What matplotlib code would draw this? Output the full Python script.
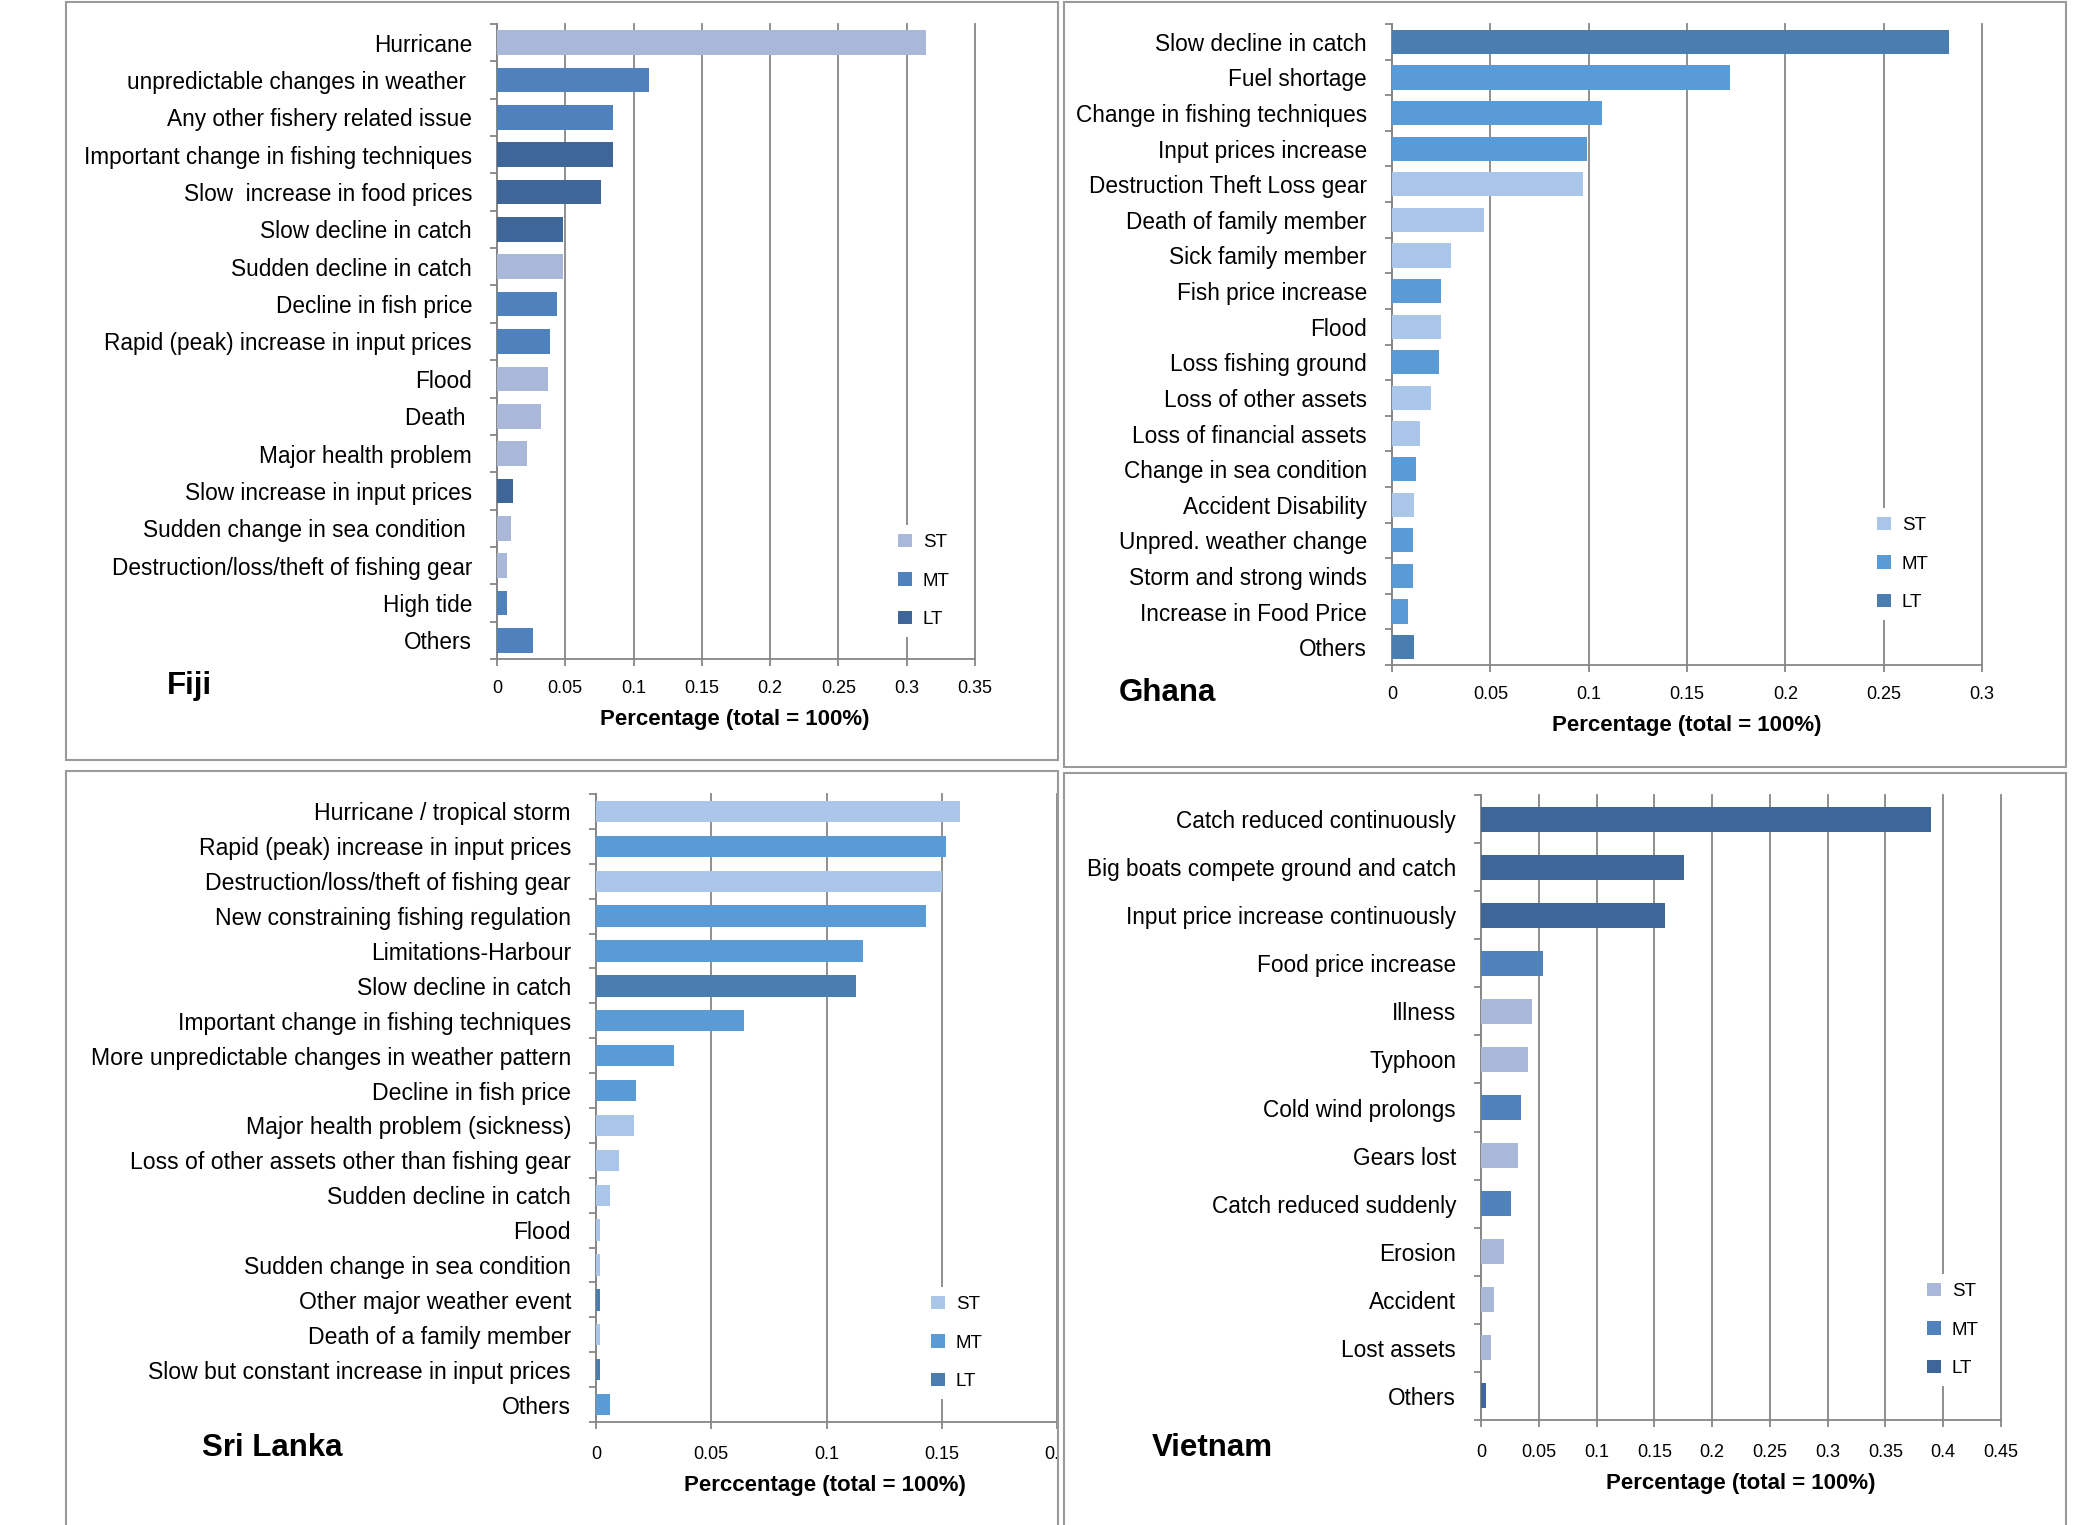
import matplotlib
matplotlib.use("Agg")
import matplotlib.pyplot as plt
from matplotlib.patches import Patch, Rectangle
from matplotlib.ticker import FixedLocator, FuncFormatter
from matplotlib.transforms import Bbox, TransformedBbox
import numpy as np

plt.rcParams['font.family'] = ['Liberation Sans', 'DejaVu Sans']

# ---------------- data ----------------
fiji_labels = ["Hurricane", "unpredictable changes in weather ", "Any other fishery related issue",
               "Important change in fishing techniques", "Slow  increase in food prices",
               "Slow decline in catch", "Sudden decline in catch", "Decline in fish price",
               "Rapid (peak) increase in input prices", "Flood", "Death ", "Major health problem",
               "Slow increase in input prices", "Sudden change in sea condition ",
               "Destruction/loss/theft of fishing gear", "High tide", "Others"]
fiji_values = [0.314, 0.111, 0.085, 0.085, 0.076, 0.048, 0.048, 0.044, 0.039, 0.037,
               0.032, 0.022, 0.012, 0.010, 0.0075, 0.0075, 0.026]
fiji_terms = ["ST", "MT", "MT", "LT", "LT", "LT", "ST", "MT", "MT", "ST",
              "ST", "ST", "LT", "ST", "ST", "MT", "MT"]

ghana_labels = ["Slow decline in catch", "Fuel shortage", "Change in fishing techniques",
                "Input prices increase", "Destruction Theft Loss gear", "Death of family member",
                "Sick family member", "Fish price increase", "Flood", "Loss fishing ground",
                "Loss of other assets", "Loss of financial assets", "Change in sea condition",
                "Accident Disability", "Unpred. weather change", "Storm and strong winds",
                "Increase in Food Price", "Others"]
ghana_values = [0.283, 0.172, 0.107, 0.099, 0.097, 0.047, 0.030, 0.025, 0.025, 0.024,
                0.020, 0.014, 0.012, 0.011, 0.0105, 0.0105, 0.008, 0.011]
ghana_terms = ["LT", "MT", "MT", "MT", "ST", "ST", "ST", "MT", "ST", "MT",
               "ST", "ST", "MT", "ST", "MT", "MT", "MT", "LT"]

srilanka_labels = ["Hurricane / tropical storm", "Rapid (peak) increase in input prices",
                   "Destruction/loss/theft of fishing gear", "New constraining fishing regulation",
                   "Limitations-Harbour", "Slow decline in catch",
                   "Important change in fishing techniques",
                   "More unpredictable changes in weather pattern", "Decline in fish price",
                   "Major health problem (sickness)", "Loss of other assets other than fishing gear",
                   "Sudden decline in catch", "Flood", "Sudden change in sea condition",
                   "Other major weather event", "Death of a family member",
                   "Slow but constant increase in input prices", "Others"]
srilanka_values = [0.158, 0.152, 0.150, 0.143, 0.116, 0.113, 0.064, 0.034, 0.0175, 0.0165,
                   0.010, 0.006, 0.0017, 0.0017, 0.0017, 0.0017, 0.0017, 0.006]
srilanka_terms = ["ST", "MT", "ST", "MT", "MT", "LT", "MT", "MT", "MT", "ST",
                  "ST", "ST", "ST", "ST", "LT", "ST", "LT", "MT"]

vietnam_labels = ["Catch reduced continuously", "Big boats compete ground and catch",
                  "Input price increase continuously", "Food price increase", "Illness",
                  "Typhoon", "Cold wind prolongs", "Gears lost", "Catch reduced suddenly",
                  "Erosion", "Accident", "Lost assets", "Others"]
vietnam_values = [0.389, 0.176, 0.159, 0.054, 0.044, 0.041, 0.035, 0.032, 0.026,
                  0.020, 0.011, 0.0085, 0.004]
vietnam_terms = ["LT", "LT", "LT", "MT", "ST", "ST", "MT", "ST", "MT",
                 "ST", "ST", "ST", "LT"]

term_order = ["ST", "MT", "LT"]
pal_a = {"ST": "#A9B8D9", "MT": "#4F81BD", "LT": "#3E6699"}   # Fiji / Vietnam
pal_b = {"ST": "#AAC6E8", "MT": "#5B9BD5", "LT": "#4A7EB0"}   # Ghana / Sri Lanka

W, H = 2073, 1525
fig = plt.figure(figsize=(W / 100, H / 100), dpi=100)
GRID = "#878787"


def fx(x):
    return x / W


def fy(y):
    return 1 - y / H


def panel(box, labels, values, terms, pal, xmax, bar_h, title, title_xy,
          xlabel, xlabel_xy, legend_xy, tick_pad=10, ylab_size=16.3, clip_right=None):
    x0, y0, x1, y1 = box
    ax = fig.add_axes([fx(x0), fy(y1), (x1 - x0) / W, (y1 - y0) / H])
    n = len(labels)
    pos = np.arange(n)
    ax.barh(pos, values, height=bar_h, color=[pal[t] for t in terms], zorder=3)
    ax.set_ylim(n - 0.5, -0.5)
    ax.set_xlim(0, xmax)

    xt = np.round(np.arange(0, xmax + 1e-9, 0.05), 2)
    ax.xaxis.set_major_locator(FixedLocator(xt))
    ax.xaxis.set_major_formatter(FuncFormatter(lambda v, p: "%g" % v))
    ax.tick_params(axis="x", direction="out", length=5, width=1.3, color=GRID,
                   labelsize=13, pad=tick_pad)
    ax.grid(axis="x", color=GRID, lw=1.3, clip_on=False)
    ax.set_axisbelow(True)

    ax.set_yticks(pos)
    ax.set_yticklabels(labels)
    ax.set_yticks(np.arange(n + 1) - 0.5, minor=True)
    ax.tick_params(axis="y", which="major", length=0, pad=18, labelsize=ylab_size)
    ax.tick_params(axis="y", which="minor", direction="out", length=5, width=1.3, color=GRID)

    for s in ["top", "right"]:
        ax.spines[s].set_visible(False)
    for s in ["left", "bottom"]:
        ax.spines[s].set_color(GRID)
        ax.spines[s].set_linewidth(1.3)

    fig.text(fx(title_xy[0]), fy(title_xy[1]), title, fontsize=22.5, fontweight="bold",
             ha="center", va="center")
    fig.text(fx(xlabel_xy[0]), fy(xlabel_xy[1]), xlabel, fontsize=16, fontweight="bold",
             ha="center", va="center")

    handles = [Patch(facecolor=pal[t], edgecolor="none") for t in term_order]
    fs = 13.5
    bp = 0.5
    ax.legend(handles, term_order, loc="center left",
              bbox_to_anchor=(fx(legend_xy[0] - 8 - bp * fs * 100 / 72), fy(legend_xy[1])),
              bbox_transform=fig.transFigure, frameon=True, facecolor="white",
              edgecolor="none", framealpha=1, fancybox=False, fontsize=fs, borderpad=bp,
              handlelength=0.7, handleheight=0.7, handletextpad=0.6, labelspacing=1.13)

    if clip_right is not None:
        cb = TransformedBbox(Bbox([[0, 0], [fx(clip_right), 1]]), fig.transFigure)
        for t in ax.xaxis.get_major_ticks():
            t.label1.set_clip_box(cb)
            t.label1.set_clip_on(True)
    return ax


panel((497, 24, 975, 659), fiji_labels, fiji_values, fiji_terms, pal_a, 0.35, 0.66,
      "Fiji", (189, 686), "Percentage (total = 100%)", (735, 719), (897, 581))
panel((1392, 24, 1982, 665), ghana_labels, ghana_values, ghana_terms, pal_b, 0.3, 0.68,
      "Ghana", (1167, 693), "Percentage (total = 100%)", (1687, 726), (1876, 564))
panel((596, 794, 1057, 1422), srilanka_labels, srilanka_values, srilanka_terms, pal_b, 0.2, 0.61,
      "Sri Lanka", (272, 1448), "Perccentage (total = 100%)", (825, 1485), (930, 1343),
      tick_pad=12, ylab_size=16.6, clip_right=1058)
panel((1481, 795, 2001, 1420), vietnam_labels, vietnam_values, vietnam_terms, pal_a, 0.45, 0.52,
      "Vietnam", (1212, 1448), "Percentage (total = 100%)", (1741, 1483), (1926, 1330),
      tick_pad=12)

# panel frames
for (a, b, c, d) in [(66, 2, 1058, 760), (1064, 2, 2066, 767),
                     (66, 771, 1058, 1540), (1064, 773, 2066, 1540)]:
    fig.add_artist(Rectangle((fx(a), fy(d)), (c - a) / W, (d - b) / H, fill=False,
                             edgecolor="#9A9A9A", lw=1.5, transform=fig.transFigure,
                             clip_on=False))

fig.savefig("out.png", dpi=100, facecolor="white")
